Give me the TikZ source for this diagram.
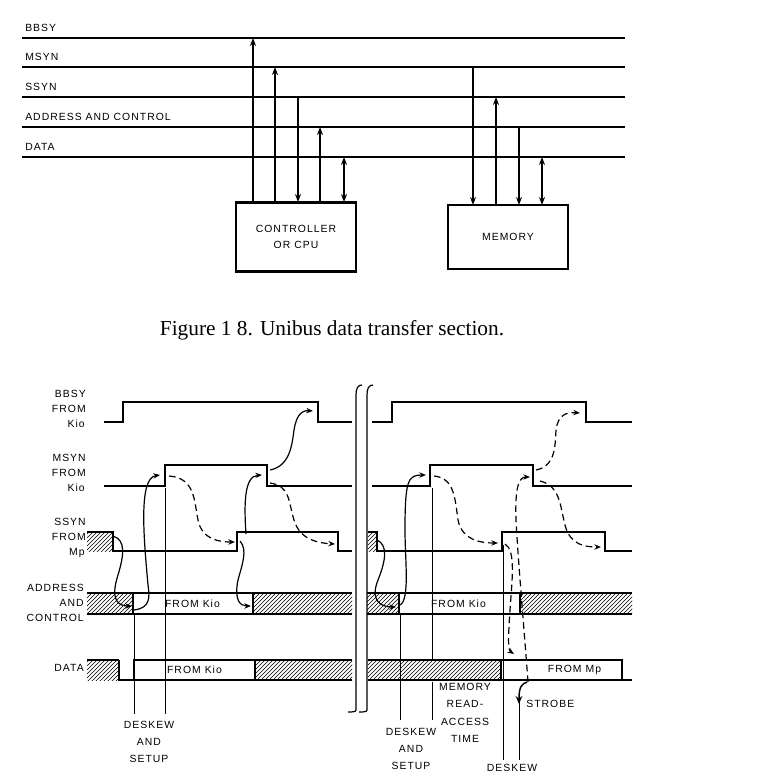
\documentclass[tikz,border=0pt]{standalone}
\usepackage{fontspec}
\setmainfont{Liberation Serif}
\newfontfamily\lab[LetterSpace=10]{Liberation Sans}
\usetikzlibrary{arrows.meta,patterns}
\begin{document}
\begin{tikzpicture}[x=0.75pt,y=-0.75pt,
  bus/.style={line width=1.3pt},
  sig/.style={line width=1.7pt},
  tip/.style={-{Stealth[length=6pt,width=4.5pt]}},
  tip2/.style={{Stealth[length=6pt,width=4.5pt]}-{Stealth[length=6pt,width=4.5pt]}},
  tt/.style={font=\lab\fontsize{7.8}{9}\selectfont,inner sep=0pt},
  box/.style={draw,line width=2pt},
  cz/.style={-{Stealth[length=5pt,width=4pt]},line width=0.9pt},
  dz/.style={cz,dash pattern=on 5pt off 3pt},
  hat/.style={pattern=north east lines},
  thinv/.style={line width=0.6pt}]
\useasboundingbox (0,0) rectangle (757,781);
% ---------- bus section
\foreach \n/\y/\t in {bb/38/BBSY,ms/67/MSYN,ss/97/SSYN,ad/127/ADDRESS AND CONTROL,da/157/DATA}{
  \draw[bus] (22,\y) coordinate (\n L) -- (625,\y) coordinate (\n R);
  \node[tt,anchor=south west] (\n T) at (25,\y-6) {\t};}
\node[box,minimum width=90pt,minimum height=52pt,align=center,tt] (cpu) at (296,237) {CONTROLLER\\[3pt]OR CPU};
\node[box,minimum width=90pt,minimum height=48pt,tt] (mem) at (508,237) {MEMORY};
\draw[line width=1.1pt,tip] (253,202) -- (253,38);
\draw[line width=1.1pt,tip] (275,202) -- (275,67);
\draw[line width=1.1pt,tip] (298,97) -- (298,202);
\draw[line width=1.1pt,tip] (320,202) -- (320,127);
\draw[line width=1.1pt,tip2] (344,202) -- (344,157);
\draw[line width=1.1pt,tip] (473,67) -- (473,205);
\draw[line width=1.1pt,tip] (496,205) -- (496,97);
\draw[line width=1.1pt,tip] (519,127) -- (519,205);
\draw[line width=1.1pt,tip2] (542,205) -- (542,157);
\node[font=\fontsize{16}{18}\selectfont] (cap) at (332,330) {Figure 1 8. Unibus data transfer section.};
% ---------- timing labels
\node[tt,align=right,anchor=east] (l1) at (86,409) {BBSY\\[2pt]FROM\\[2pt]K\textsc{io}};
\node[tt,align=right,anchor=east] (l2) at (86,473) {MSYN\\[2pt]FROM\\[2pt]K\textsc{io}};
\node[tt,align=right,anchor=east] (l3) at (86,538) {SSYN\\[2pt]FROM\\[2pt]M\textsc{p}};
\node[tt,align=right,anchor=east] (l4) at (84,603) {ADDRESS\\[2pt]AND\\[2pt]CONTROL};
\node[tt,anchor=east] (l5) at (84,668) {DATA};
% hatched areas
\fill[hat] (87,532) rectangle (113,551);
\fill[hat] (368,532) rectangle (377,551);
\fill[hat] (87,593) rectangle (133,614);
\fill[hat] (253,593) rectangle (352,614);
\fill[hat] (363,593) rectangle (399,614);
\fill[hat] (520,593) rectangle (632,614);
\fill[hat] (87,660) rectangle (119,680);
\fill[hat] (255,660) rectangle (352,680);
\fill[hat] (368,660) rectangle (501,680);
% signals
\draw[sig] (104,422) -- (123,422) -- (123,402) -- (318,402) -- (318,422) -- (352,422);
\draw[sig] (372,422) -- (392,422) -- (392,402) -- (586,402) -- (586,422) -- (632,422);
\draw[sig] (104,486) -- (165,486) -- (165,465) -- (267,465) -- (267,486) -- (352,486);
\draw[sig] (372,486) -- (430,486) -- (430,465) -- (533,465) -- (533,486) -- (632,486);
\draw[sig] (87,532) -- (113,532) -- (113,551) -- (237,551) -- (237,532) -- (338,532) -- (338,551) -- (352,551);
\draw[sig] (368,532) -- (377,532) -- (377,551) -- (502,551) -- (502,532) -- (605,532) -- (605,551) -- (632,551);
\draw[sig] (87,593) -- (352,593) (87,614) -- (352,614);
\draw[sig] (133,593) -- (133,614) (253,593) -- (253,614);
\draw[sig] (363,593) -- (632,593) (363,614) -- (632,614);
\draw[sig] (399,593) -- (399,614) (520,593) -- (520,614);
\draw[sig] (119,660) -- (119,680) -- (134,680) -- (134,660) -- (255,660) -- (255,680);
\draw[sig] (87,660) -- (119,660) (134,680) -- (352,680) (255,660) -- (352,660);
\draw[sig] (368,660) -- (501,660) (368,680) -- (632,680);
\draw[sig] (501,660) -- (501,680) (501,660) -- (622,660) -- (622,680);
\node[tt] (fk1) at (193,604) {FROM K\textsc{io}};
\node[tt] (fk2) at (459,604) {FROM K\textsc{io}};
\node[tt] (fk3) at (195,670) {FROM K\textsc{io}};
\node[tt] (fm) at (575,670) {FROM M\textsc{p}};
% break
\fill[white] (357,385) rectangle (367,710);
\draw[line width=0.9pt] (356,710) .. controls (356,712) and (352,712) .. (348,712)
  (356,710) -- (356,395) .. controls (356,388) and (358,385) .. (362,385);
\draw[line width=0.9pt] (367,710) .. controls (367,712) and (363,712) .. (359,712)
  (367,710) -- (367,395) .. controls (367,388) and (369,385) .. (373,385);
% verticals
\draw[thinv] (134,614) -- (134,714) (165,488) -- (165,714);
\draw[thinv] (400,614) -- (400,720) (432,488) -- (432,660) (432,682) -- (432,720);
\draw[thinv] (503,545) -- (503,760);
\draw[thinv] (519,690) -- (519,760);
\draw[line width=1.1pt,-{Stealth[length=6pt,width=5pt]}] (527,682) .. controls (522,684) and (519,686) .. (519,704);
\node[tt,align=center] (ds1) at (149,742) {DESKEW\\[4pt]AND\\[4pt]SETUP};
\node[tt,align=center] (ds2) at (411,749) {DESKEW\\[4pt]AND\\[4pt]SETUP};
\node[tt,align=center] (mra) at (465,713) {MEMORY\\[4pt]READ-\\[4pt]ACCESS\\[4pt]TIME};
\node[tt] (dsk) at (512,768) {DESKEW};
\node[tt,anchor=west] (stb) at (526,704) {STROBE};
% causal arrows left
\draw[cz] (113,536) .. controls (126,540) and (124,555) .. (118,575) .. controls (110,600) and (118,606) .. (132,606);
\draw[cz] (134,610) .. controls (150,608) and (150,598) .. (148,585) .. controls (144,540) and (138,478) .. (160,475);
\draw[dz] (169,476) .. controls (195,478) and (194,500) .. (198,520) .. controls (202,540) and (220,542) .. (235,542);
\draw[cz] (240,541) .. controls (248,550) and (242,565) .. (238,580) .. controls (234,600) and (240,606) .. (251,606);
\draw[cz] (246,534) .. controls (244,505) and (244,476) .. (262,475);
\draw[cz] (270,470) .. controls (290,466) and (292,445) .. (294,430) .. controls (296,418) and (300,410) .. (313,411);
\draw[dz] (270,483) .. controls (290,486) and (288,500) .. (294,520) .. controls (300,540) and (318,543) .. (335,544);
% causal arrows right
\draw[cz] (377,540) .. controls (388,545) and (386,560) .. (378,580) .. controls (370,600) and (380,607) .. (396,607);
\draw[cz] (400,605) .. controls (410,600) and (405,560) .. (405,530) .. controls (405,480) and (408,475) .. (426,475);
\draw[dz] (434,476) .. controls (455,478) and (455,500) .. (458,520) .. controls (462,540) and (480,543) .. (498,543);
\draw[dz] (505,544) .. controls (516,550) and (512,580) .. (510,610) .. controls (508,640) and (508,650) .. (514,654);
\draw[dz] (528,682) .. controls (525,640) and (518,560) .. (516,520) .. controls (515,490) and (518,477) .. (530,477);
\draw[dz] (536,470) .. controls (556,466) and (555,445) .. (556,430) .. controls (558,415) and (566,412) .. (580,413);
\draw[dz] (540,481) .. controls (560,486) and (560,505) .. (565,525) .. controls (570,545) and (585,547) .. (601,547);
\end{tikzpicture}
\end{document}
